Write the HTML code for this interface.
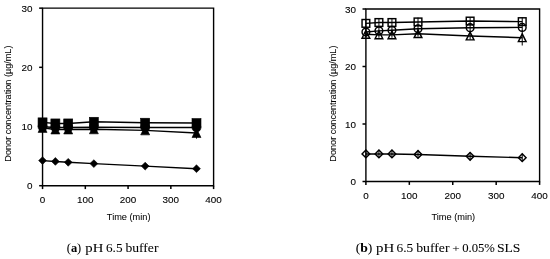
<!DOCTYPE html>
<html><head><meta charset="utf-8"><style>
html,body{margin:0;padding:0;background:#fff;width:550px;height:259px;overflow:hidden}
svg{display:block}
.tk{font-family:"Liberation Sans",sans-serif;font-size:9.6px;fill:#000;stroke:#000;stroke-width:0.1px}
.tt{font-family:"Liberation Sans",sans-serif;font-size:9.8px;fill:#000;stroke:#000;stroke-width:0.05px}
.cap{font-family:"Liberation Serif",serif;font-size:13.5px;fill:#000;stroke:#000;stroke-width:0.05px}
</style></head><body>
<svg width="550" height="259" viewBox="0 0 550 259">
<path d="M42.55,8.15 H213.60 V185.70 H42.55 Z" fill="none" stroke="#000" stroke-width="1.4"/>
<line x1="39.15" y1="185.70" x2="42.55" y2="185.70" stroke="#000" stroke-width="1.5"/>
<text transform="translate(32.50,189.20) scale(1.03,1)" text-anchor="end" class="tk">0</text>
<line x1="39.15" y1="126.52" x2="42.55" y2="126.52" stroke="#000" stroke-width="1.5"/>
<text transform="translate(32.50,130.02) scale(1.03,1)" text-anchor="end" class="tk">10</text>
<line x1="39.15" y1="67.33" x2="42.55" y2="67.33" stroke="#000" stroke-width="1.5"/>
<text transform="translate(32.50,70.83) scale(1.03,1)" text-anchor="end" class="tk">20</text>
<line x1="39.15" y1="8.15" x2="42.55" y2="8.15" stroke="#000" stroke-width="1.5"/>
<text transform="translate(32.50,11.65) scale(1.03,1)" text-anchor="end" class="tk">30</text>
<line x1="42.55" y1="185.70" x2="42.55" y2="189.10" stroke="#000" stroke-width="1.5"/>
<text transform="translate(42.55,203.20) scale(1.03,1)" text-anchor="middle" class="tk">0</text>
<line x1="85.31" y1="185.70" x2="85.31" y2="189.10" stroke="#000" stroke-width="1.5"/>
<text transform="translate(85.31,203.20) scale(1.03,1)" text-anchor="middle" class="tk">100</text>
<line x1="128.07" y1="185.70" x2="128.07" y2="189.10" stroke="#000" stroke-width="1.5"/>
<text transform="translate(128.07,203.20) scale(1.03,1)" text-anchor="middle" class="tk">200</text>
<line x1="170.84" y1="185.70" x2="170.84" y2="189.10" stroke="#000" stroke-width="1.5"/>
<text transform="translate(170.84,203.20) scale(1.03,1)" text-anchor="middle" class="tk">300</text>
<line x1="213.60" y1="185.70" x2="213.60" y2="189.10" stroke="#000" stroke-width="1.5"/>
<text transform="translate(213.60,203.20) scale(1.03,1)" text-anchor="middle" class="tk">400</text>
<text transform="translate(128.67,220.00) scale(0.94,1)" text-anchor="middle" class="tt">Time (min)</text>
<text transform="translate(11.00,103.6) rotate(-90) scale(0.93,1)" text-anchor="middle" class="tt">Donor concentration (µg/mL)</text>
<polyline points="42.55,160.61 55.38,161.43 68.21,162.32 93.86,163.62 145.18,166.11 196.50,168.71" fill="none" stroke="#000" stroke-width="1.45"/>
<polyline points="42.55,127.88 55.38,129.48 68.21,129.48 93.86,129.30 145.18,130.36 196.50,133.03" fill="none" stroke="#000" stroke-width="1.45"/>
<polyline points="42.55,126.81 55.38,127.58 68.21,127.58 93.86,127.29 145.18,127.58 196.50,127.58" fill="none" stroke="#000" stroke-width="1.45"/>
<polyline points="42.55,122.37 55.38,123.44 68.21,123.44 93.86,121.78 145.18,122.73 196.50,123.08" fill="none" stroke="#000" stroke-width="1.45"/>
<line x1="42.55" y1="160.01" x2="42.55" y2="161.20" stroke="#000" stroke-width="1"/>
<line x1="55.38" y1="160.84" x2="55.38" y2="162.03" stroke="#000" stroke-width="1"/>
<line x1="68.21" y1="161.73" x2="68.21" y2="162.91" stroke="#000" stroke-width="1"/>
<line x1="93.86" y1="163.03" x2="93.86" y2="164.22" stroke="#000" stroke-width="1"/>
<line x1="145.18" y1="165.52" x2="145.18" y2="166.70" stroke="#000" stroke-width="1"/>
<line x1="196.50" y1="168.12" x2="196.50" y2="169.31" stroke="#000" stroke-width="1"/>
<line x1="42.55" y1="126.10" x2="42.55" y2="129.65" stroke="#000" stroke-width="1"/>
<line x1="55.38" y1="127.70" x2="55.38" y2="131.25" stroke="#000" stroke-width="1"/>
<line x1="68.21" y1="127.70" x2="68.21" y2="131.25" stroke="#000" stroke-width="1"/>
<line x1="93.86" y1="127.52" x2="93.86" y2="131.07" stroke="#000" stroke-width="1"/>
<line x1="145.18" y1="128.59" x2="145.18" y2="132.14" stroke="#000" stroke-width="1"/>
<line x1="196.50" y1="127.40" x2="196.50" y2="138.65" stroke="#000" stroke-width="1"/>
<line x1="42.55" y1="125.63" x2="42.55" y2="128.00" stroke="#000" stroke-width="1"/>
<line x1="55.38" y1="126.40" x2="55.38" y2="128.77" stroke="#000" stroke-width="1"/>
<line x1="68.21" y1="126.40" x2="68.21" y2="128.77" stroke="#000" stroke-width="1"/>
<line x1="93.86" y1="126.10" x2="93.86" y2="128.47" stroke="#000" stroke-width="1"/>
<line x1="145.18" y1="126.40" x2="145.18" y2="128.77" stroke="#000" stroke-width="1"/>
<line x1="196.50" y1="126.40" x2="196.50" y2="128.77" stroke="#000" stroke-width="1"/>
<line x1="42.55" y1="121.19" x2="42.55" y2="123.56" stroke="#000" stroke-width="1"/>
<line x1="55.38" y1="122.26" x2="55.38" y2="124.62" stroke="#000" stroke-width="1"/>
<line x1="68.21" y1="122.26" x2="68.21" y2="124.62" stroke="#000" stroke-width="1"/>
<line x1="93.86" y1="120.60" x2="93.86" y2="122.97" stroke="#000" stroke-width="1"/>
<line x1="145.18" y1="121.55" x2="145.18" y2="123.91" stroke="#000" stroke-width="1"/>
<line x1="196.50" y1="121.90" x2="196.50" y2="124.27" stroke="#000" stroke-width="1"/>
<polygon points="42.55,156.71 46.45,160.61 42.55,164.51 38.65,160.61" fill="#000" stroke="#000" stroke-width="0.6"/>
<polygon points="55.38,157.53 59.28,161.43 55.38,165.33 51.48,161.43" fill="#000" stroke="#000" stroke-width="0.6"/>
<polygon points="68.21,158.42 72.11,162.32 68.21,166.22 64.31,162.32" fill="#000" stroke="#000" stroke-width="0.6"/>
<polygon points="93.86,159.72 97.77,163.62 93.86,167.52 89.96,163.62" fill="#000" stroke="#000" stroke-width="0.6"/>
<polygon points="145.18,162.21 149.08,166.11 145.18,170.01 141.28,166.11" fill="#000" stroke="#000" stroke-width="0.6"/>
<polygon points="196.50,164.81 200.40,168.71 196.50,172.61 192.59,168.71" fill="#000" stroke="#000" stroke-width="0.6"/>
<polygon points="42.55,123.38 47.05,132.38 38.05,132.38" fill="#000" stroke="#000" stroke-width="0.6"/>
<polygon points="55.38,124.98 59.88,133.98 50.88,133.98" fill="#000" stroke="#000" stroke-width="0.6"/>
<polygon points="68.21,124.98 72.71,133.98 63.71,133.98" fill="#000" stroke="#000" stroke-width="0.6"/>
<polygon points="93.86,124.80 98.36,133.80 89.36,133.80" fill="#000" stroke="#000" stroke-width="0.6"/>
<polygon points="145.18,125.86 149.68,134.86 140.68,134.86" fill="#000" stroke="#000" stroke-width="0.6"/>
<polygon points="196.50,128.53 201.00,137.53 192.00,137.53" fill="#000" stroke="#000" stroke-width="0.6"/>
<circle cx="42.55" cy="126.81" r="4.50" fill="#000" stroke="#000" stroke-width="0.6"/>
<circle cx="55.38" cy="127.58" r="4.50" fill="#000" stroke="#000" stroke-width="0.6"/>
<circle cx="68.21" cy="127.58" r="4.50" fill="#000" stroke="#000" stroke-width="0.6"/>
<circle cx="93.86" cy="127.29" r="4.50" fill="#000" stroke="#000" stroke-width="0.6"/>
<circle cx="145.18" cy="127.58" r="4.50" fill="#000" stroke="#000" stroke-width="0.6"/>
<circle cx="196.50" cy="127.58" r="4.50" fill="#000" stroke="#000" stroke-width="0.6"/>
<rect x="38.05" y="117.87" width="9.00" height="9.00" fill="#000" stroke="#000" stroke-width="0.6"/>
<rect x="50.88" y="118.94" width="9.00" height="9.00" fill="#000" stroke="#000" stroke-width="0.6"/>
<rect x="63.71" y="118.94" width="9.00" height="9.00" fill="#000" stroke="#000" stroke-width="0.6"/>
<rect x="89.36" y="117.28" width="9.00" height="9.00" fill="#000" stroke="#000" stroke-width="0.6"/>
<rect x="140.68" y="118.23" width="9.00" height="9.00" fill="#000" stroke="#000" stroke-width="0.6"/>
<rect x="192.00" y="118.58" width="9.00" height="9.00" fill="#000" stroke="#000" stroke-width="0.6"/>
<path d="M365.90,9.00 H539.60 V181.50 H365.90 Z" fill="none" stroke="#000" stroke-width="1.4"/>
<line x1="362.50" y1="181.50" x2="365.90" y2="181.50" stroke="#000" stroke-width="1.5"/>
<text transform="translate(356.00,185.00) scale(1.03,1)" text-anchor="end" class="tk">0</text>
<line x1="362.50" y1="124.00" x2="365.90" y2="124.00" stroke="#000" stroke-width="1.5"/>
<text transform="translate(356.00,127.50) scale(1.03,1)" text-anchor="end" class="tk">10</text>
<line x1="362.50" y1="66.50" x2="365.90" y2="66.50" stroke="#000" stroke-width="1.5"/>
<text transform="translate(356.00,70.00) scale(1.03,1)" text-anchor="end" class="tk">20</text>
<line x1="362.50" y1="9.00" x2="365.90" y2="9.00" stroke="#000" stroke-width="1.5"/>
<text transform="translate(356.00,12.50) scale(1.03,1)" text-anchor="end" class="tk">30</text>
<line x1="365.90" y1="181.50" x2="365.90" y2="184.90" stroke="#000" stroke-width="1.5"/>
<text transform="translate(365.90,198.60) scale(1.03,1)" text-anchor="middle" class="tk">0</text>
<line x1="409.32" y1="181.50" x2="409.32" y2="184.90" stroke="#000" stroke-width="1.5"/>
<text transform="translate(409.32,198.60) scale(1.03,1)" text-anchor="middle" class="tk">100</text>
<line x1="452.75" y1="181.50" x2="452.75" y2="184.90" stroke="#000" stroke-width="1.5"/>
<text transform="translate(452.75,198.60) scale(1.03,1)" text-anchor="middle" class="tk">200</text>
<line x1="496.18" y1="181.50" x2="496.18" y2="184.90" stroke="#000" stroke-width="1.5"/>
<text transform="translate(496.18,198.60) scale(1.03,1)" text-anchor="middle" class="tk">300</text>
<line x1="539.60" y1="181.50" x2="539.60" y2="184.90" stroke="#000" stroke-width="1.5"/>
<text transform="translate(539.60,198.60) scale(1.03,1)" text-anchor="middle" class="tk">400</text>
<text transform="translate(453.35,220.00) scale(0.94,1)" text-anchor="middle" class="tt">Time (min)</text>
<text transform="translate(335.50,103.6) rotate(-90) scale(0.93,1)" text-anchor="middle" class="tt">Donor concentration (µg/mL)</text>
<polyline points="365.90,153.90 378.93,153.90 391.95,153.90 418.01,154.47 470.12,156.26 522.23,157.69" fill="none" stroke="#000" stroke-width="1.45"/>
<polyline points="365.90,34.30 378.93,34.88 391.95,34.88 418.01,33.72 470.12,36.03 522.23,37.75" fill="none" stroke="#000" stroke-width="1.45"/>
<polyline points="365.90,32.00 378.93,30.85 391.95,30.28 418.01,28.84 470.12,27.69 522.23,27.40" fill="none" stroke="#000" stroke-width="1.45"/>
<polyline points="365.90,23.38 378.93,22.51 391.95,22.51 418.01,21.94 470.12,21.07 522.23,21.65" fill="none" stroke="#000" stroke-width="1.45"/>
<line x1="365.90" y1="149.88" x2="365.90" y2="157.93" stroke="#000" stroke-width="1"/>
<line x1="378.93" y1="149.88" x2="378.93" y2="157.93" stroke="#000" stroke-width="1"/>
<line x1="391.95" y1="149.88" x2="391.95" y2="157.93" stroke="#000" stroke-width="1"/>
<line x1="418.01" y1="150.45" x2="418.01" y2="158.50" stroke="#000" stroke-width="1"/>
<line x1="470.12" y1="152.23" x2="470.12" y2="160.28" stroke="#000" stroke-width="1"/>
<line x1="522.23" y1="153.67" x2="522.23" y2="161.72" stroke="#000" stroke-width="1"/>
<line x1="365.90" y1="31.43" x2="365.90" y2="37.18" stroke="#000" stroke-width="1"/>
<line x1="378.93" y1="32.00" x2="378.93" y2="37.75" stroke="#000" stroke-width="1"/>
<line x1="391.95" y1="32.00" x2="391.95" y2="37.75" stroke="#000" stroke-width="1"/>
<line x1="418.01" y1="30.85" x2="418.01" y2="36.60" stroke="#000" stroke-width="1"/>
<line x1="470.12" y1="32.57" x2="470.12" y2="39.47" stroke="#000" stroke-width="1"/>
<line x1="522.23" y1="29.99" x2="522.23" y2="45.51" stroke="#000" stroke-width="1"/>
<line x1="365.90" y1="27.69" x2="365.90" y2="36.31" stroke="#000" stroke-width="1"/>
<line x1="378.93" y1="26.54" x2="378.93" y2="35.16" stroke="#000" stroke-width="1"/>
<line x1="391.95" y1="25.96" x2="391.95" y2="34.59" stroke="#000" stroke-width="1"/>
<line x1="418.01" y1="24.53" x2="418.01" y2="33.15" stroke="#000" stroke-width="1"/>
<line x1="470.12" y1="24.24" x2="470.12" y2="31.14" stroke="#000" stroke-width="1"/>
<line x1="522.23" y1="23.95" x2="522.23" y2="30.85" stroke="#000" stroke-width="1"/>
<line x1="365.90" y1="19.06" x2="365.90" y2="27.69" stroke="#000" stroke-width="1"/>
<line x1="378.93" y1="18.20" x2="378.93" y2="26.82" stroke="#000" stroke-width="1"/>
<line x1="391.95" y1="18.20" x2="391.95" y2="26.82" stroke="#000" stroke-width="1"/>
<line x1="418.01" y1="17.62" x2="418.01" y2="26.25" stroke="#000" stroke-width="1"/>
<line x1="470.12" y1="17.62" x2="470.12" y2="24.53" stroke="#000" stroke-width="1"/>
<line x1="522.23" y1="17.34" x2="522.23" y2="25.96" stroke="#000" stroke-width="1"/>
<polygon points="365.90,150.05 369.75,153.90 365.90,157.75 362.05,153.90" fill="none" stroke="#000" stroke-width="1.45"/>
<polygon points="378.93,150.05 382.78,153.90 378.93,157.75 375.08,153.90" fill="none" stroke="#000" stroke-width="1.45"/>
<polygon points="391.95,150.05 395.81,153.90 391.95,157.75 388.10,153.90" fill="none" stroke="#000" stroke-width="1.45"/>
<polygon points="418.01,150.62 421.86,154.47 418.01,158.32 414.16,154.47" fill="none" stroke="#000" stroke-width="1.45"/>
<polygon points="470.12,152.41 473.97,156.26 470.12,160.11 466.27,156.26" fill="none" stroke="#000" stroke-width="1.45"/>
<polygon points="522.23,153.84 526.08,157.69 522.23,161.54 518.38,157.69" fill="none" stroke="#000" stroke-width="1.45"/>
<polygon points="365.90,30.45 369.75,38.15 362.05,38.15" fill="none" stroke="#000" stroke-width="1.45"/>
<polygon points="378.93,31.02 382.78,38.73 375.08,38.73" fill="none" stroke="#000" stroke-width="1.45"/>
<polygon points="391.95,31.02 395.81,38.73 388.10,38.73" fill="none" stroke="#000" stroke-width="1.45"/>
<polygon points="418.01,29.87 421.86,37.57 414.16,37.57" fill="none" stroke="#000" stroke-width="1.45"/>
<polygon points="470.12,32.18 473.97,39.88 466.27,39.88" fill="none" stroke="#000" stroke-width="1.45"/>
<polygon points="522.23,33.90 526.08,41.60 518.38,41.60" fill="none" stroke="#000" stroke-width="1.45"/>
<circle cx="365.90" cy="32.00" r="3.85" fill="none" stroke="#000" stroke-width="1.45"/>
<circle cx="378.93" cy="30.85" r="3.85" fill="none" stroke="#000" stroke-width="1.45"/>
<circle cx="391.95" cy="30.28" r="3.85" fill="none" stroke="#000" stroke-width="1.45"/>
<circle cx="418.01" cy="28.84" r="3.85" fill="none" stroke="#000" stroke-width="1.45"/>
<circle cx="470.12" cy="27.69" r="3.85" fill="none" stroke="#000" stroke-width="1.45"/>
<circle cx="522.23" cy="27.40" r="3.85" fill="none" stroke="#000" stroke-width="1.45"/>
<rect x="362.05" y="19.52" width="7.70" height="7.70" fill="none" stroke="#000" stroke-width="1.45"/>
<rect x="375.08" y="18.66" width="7.70" height="7.70" fill="none" stroke="#000" stroke-width="1.45"/>
<rect x="388.10" y="18.66" width="7.70" height="7.70" fill="none" stroke="#000" stroke-width="1.45"/>
<rect x="414.16" y="18.09" width="7.70" height="7.70" fill="none" stroke="#000" stroke-width="1.45"/>
<rect x="466.27" y="17.22" width="7.70" height="7.70" fill="none" stroke="#000" stroke-width="1.45"/>
<rect x="518.38" y="17.80" width="7.70" height="7.70" fill="none" stroke="#000" stroke-width="1.45"/>
<text transform="translate(66.74,251.8) scale(0.922,1)" class="cap">(<tspan font-weight="bold">a</tspan>)</text>
<text transform="translate(85.33,251.8) scale(1.092,1)" class="cap">pH</text>
<text transform="translate(106.01,251.8) scale(0.978,1)" class="cap">6.5</text>
<text transform="translate(125.40,251.8) scale(1.011,1)" class="cap">buffer</text>
<text transform="translate(355.69,251.8) scale(1.013,1)" class="cap">(<tspan font-weight="bold">b</tspan>)</text>
<text transform="translate(376.02,251.8) scale(1.105,1)" class="cap">pH</text>
<text transform="translate(396.50,251.8) scale(0.990,1)" class="cap">6.5</text>
<text transform="translate(416.20,251.8) scale(1.020,1)" class="cap">buffer</text>
<text transform="translate(462.13,251.8) scale(0.940,1)" class="cap">0.05%</text>
<text transform="translate(496.89,251.8) scale(1.014,1)" class="cap">SLS</text>
<text transform="translate(452.27,252.15) scale(0.976,0.83)" class="cap">+</text>
</svg>
</body></html>
